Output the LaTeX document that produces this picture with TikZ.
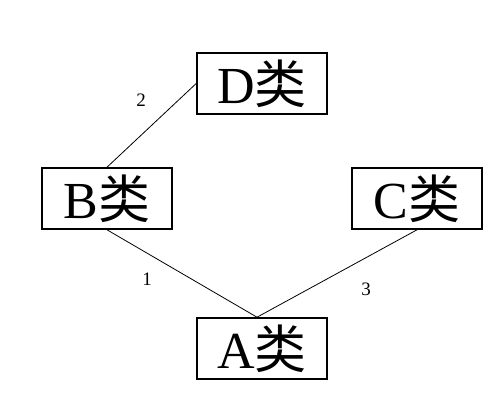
\documentclass[tikz,border=0pt]{standalone}
\usepackage{fontspec}
\setmainfont{Liberation Serif}
\newfontfamily\cjk{Noto Sans CJK SC}
\begin{document}
\begin{tikzpicture}[x=1pt,y=-1pt,
  cls/.style={draw,line width=1.6pt,minimum width=130pt,minimum height=61pt,inner sep=0pt,font=\fontsize{52}{52}\selectfont},
  lbl/.style={font=\fontsize{19}{19}\selectfont,inner sep=0pt},
  edge/.style={line width=0.8pt}]
\useasboundingbox (0,0) rectangle (502,405);
\node[cls] (D) at (262,83.5) {D{\cjk 类}};
\node[cls] (B) at (107,198.5) {B{\cjk 类}};
\node[cls] (C) at (417,198.5) {C{\cjk 类}};
\node[cls] (A) at (262,348.5) {A{\cjk 类}};
\draw[edge] (B.north) -- (D.west);
\draw[edge] (B.south) -- ([xshift=-5pt]A.north);
\draw[edge] (C.south) -- ([xshift=-5pt]A.north);
\node[lbl] (l2) at (141,100) {2};
\node[lbl] (l1) at (147,279) {1};
\node[lbl] (l3) at (366,289) {3};
\end{tikzpicture}
\end{document}
